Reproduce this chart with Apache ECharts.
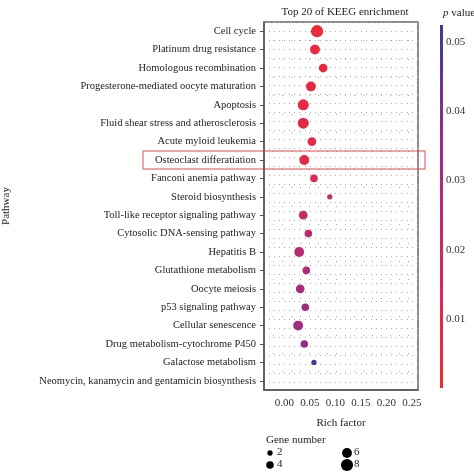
<!DOCTYPE html><html><head><meta charset="utf-8"><script src="https://cdn.jsdelivr.net/npm/echarts@6/dist/echarts.min.js"></script>
<style>html,body{margin:0;background:#fff}#c{width:474px;height:474px}</style></head><body><div id="c"></div><script>
const categories=["Cell cycle","Platinum drug resistance","Homologous recombination","Progesterone-mediated oocyte maturation","Apoptosis","Fluid shear stress and atherosclerosis","Acute myloid leukemia","Osteoclast differatiation","Fanconi anemia pathway","Steroid biosynthesis","Toll-like receptor signaling pathway","Cytosolic DNA-sensing pathway","Hepatitis B","Glutathione metabolism","Oocyte meiosis","p53 signaling pathway","Cellular senescence","Drug metabolism-cytochrome P450","Galactose metabolism","Neomycin, kanamycin and gentamicin biosynthesis"];
const richFactor=[0.064,0.060,0.076,0.052,0.037,0.037,0.054,0.039,0.058,0.089,0.037,0.047,0.029,0.043,0.031,0.041,0.027,0.039,0.058,null];
const geneNumber=[8,6,5,6,7,7,5,6,4,2,5,4,6,4,5,4,6,4,2,null];
const pValue=[0.001,0.002,0.003,0.005,0.006,0.007,0.008,0.009,0.012,0.02,0.021,0.024,0.026,0.028,0.030,0.032,0.033,0.035,0.050,null];
const xTicks=[0,0.05,0.10,0.15,0.20,0.25];
const legendSizes=[2,4,6,8];
const pMax=0.0525;
const colors=['#ee2a35','#d02a62','#9a2c86','#3c3a9c'];
const F='Liberation Serif';
const sz=n=>3+n*1.15;
const chart=echarts.init(document.getElementById('c'));
const data=categories.map((c,i)=>richFactor[i]==null?null:[richFactor[i],c,geneNumber[i],pValue[i]]).filter(d=>d);
const near=(v,arr)=>arr.some(t=>Math.abs(t-v)<1e-9);
chart.setOption({
 animation:false,
 title:{text:'Top 20 of KEEG enrichment',left:340,textAlign:'center',top:2,textStyle:{fontFamily:F,fontSize:11,fontWeight:'normal',color:'#222'}},
 grid:[{left:262,right:56,top:22,bottom:84,show:true,borderColor:'#666',borderWidth:1.5},{left:440,width:12,top:25,bottom:86}],
 xAxis:[{type:'value',gridIndex:0,min:-0.04,max:0.262,interval:0.01,
  axisLine:{show:true,onZero:false,lineStyle:{color:'#555',width:1.5}},axisTick:{show:false},
  axisLabel:{fontFamily:F,fontSize:11,color:'#333',showMinLabel:true,showMaxLabel:true,formatter:v=>near(v,xTicks)?v.toFixed(2):''},
  splitLine:{show:true,lineStyle:{type:[1,8],color:'#aaa'}},
  name:'Rich factor',nameLocation:'middle',nameGap:28,nameTextStyle:{fontFamily:F,fontSize:11,color:'#222'}},
  {type:'category',gridIndex:1,data:['p'],show:false}],
 yAxis:[{type:'category',gridIndex:0,data:categories,inverse:true,
  axisLine:{onZero:false,lineStyle:{color:'#555',width:1.5}},axisTick:{show:true,alignWithLabel:true,length:4},
  axisLabel:{fontFamily:F,fontSize:10.5,color:'#222',interval:0},
  splitLine:{show:true,lineStyle:{type:[1,8],color:'#aaa'}},
  name:'Pathway',nameLocation:'middle',nameGap:252,nameTextStyle:{fontFamily:F,fontSize:11,color:'#222'}},
  {type:'value',gridIndex:1,min:0,max:pMax,interval:0.01,position:'right',axisLine:{show:false},
  axisTick:{show:true,length:3,lineStyle:{color:'#fff'}},splitLine:{show:false},
  axisLabel:{fontFamily:F,fontSize:11,color:'#333',margin:3,showMaxLabel:false,formatter:v=>(v>0&&near(v,[0.01,0.02,0.03,0.04,0.05]))?v.toFixed(2):''},
  name:'{i|p} value',nameLocation:'end',nameGap:6,nameTextStyle:{fontFamily:F,fontSize:11,color:'#222',align:'left',rich:{i:{fontFamily:F,fontSize:11,fontStyle:'italic',color:'#222'}}}}],
 visualMap:{show:false,dimension:3,seriesIndex:0,min:0,max:pMax,inRange:{color:colors}},
 series:[{type:'scatter',xAxisIndex:0,yAxisIndex:0,data:data,symbolSize:d=>sz(d[2]),itemStyle:{opacity:1}},
  {type:'bar',xAxisIndex:1,yAxisIndex:1,data:[pMax],barWidth:12,itemStyle:{color:new echarts.graphic.LinearGradient(0,1,0,0,colors.map((c,i)=>({offset:i/(colors.length-1),color:c})))}}]
});
const g=[];
const oy=chart.convertToPixel({xAxisIndex:0,yAxisIndex:0},[0,categories[7]])[1];
g.push({type:'rect',shape:{x:143,y:oy-9,width:282,height:18},style:{fill:'none',stroke:'#e8474c',lineWidth:1}});
g.push({type:'text',left:266,top:435,style:{text:'Gene number',font:'11px '+F,fill:'#222'}});
legendSizes.forEach((s,i)=>{const x=i<2?270:347,y=i%2?465:453;
 g.push({type:'circle',shape:{cx:x,cy:y,r:sz(s)/2},style:{fill:'#000'}});
 g.push({type:'text',x:x+7,y:y-6,style:{text:String(s),font:'11px '+F,fill:'#222'}});});
chart.setOption({graphic:g});
</script></body></html>
